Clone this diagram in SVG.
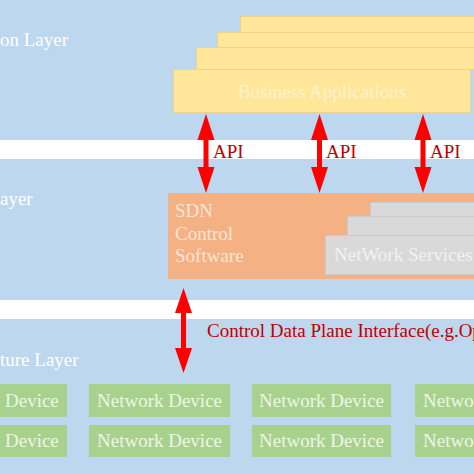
<svg xmlns="http://www.w3.org/2000/svg" width="474" height="474" viewBox="0 0 474 474">
<style>
text{font-family:"Liberation Serif","Times New Roman",serif;font-size:19px}
.app{fill:#FFE699;stroke:#EBD38C;stroke-width:1}
.gray{fill:#D9D9D9;stroke:#CACACA;stroke-width:1}
.dev{fill:#A9D18E}
.lbl{fill:#FFFFFF}
.red{fill:#C00000}
.arrow{fill:#FF0000}
.devt{fill:#EEF5E8;text-anchor:middle}
</style>
<rect x="0" y="0" width="474" height="474" fill="#BDD7EE"/>
<rect x="0" y="140" width="474" height="19" fill="#FFFFFF"/>
<rect x="0" y="300" width="474" height="19" fill="#FFFFFF"/>
<g id="layer-labels">
<text class="lbl" x="0" y="46">on Layer</text>
<text class="lbl" x="0" y="205">ayer</text>
<text class="lbl" x="0" y="366">ture Layer</text>
</g>
<g id="business-applications">
<rect class="app" x="240.5" y="16.5" width="240" height="16"/>
<rect class="app" x="217.5" y="32.5" width="260" height="15"/>
<rect class="app" x="196.5" y="47.5" width="280" height="22"/>
<rect class="app" x="173.5" y="69.5" width="297" height="43"/>
<text x="322" y="98" fill="#FFF2CC" text-anchor="middle">Business Applications</text>
</g>
<g id="sdn-control">
<rect x="168" y="193" width="310" height="86" fill="#F4B183"/>
<text x="175" y="217" fill="#FBE5D6">SDN</text>
<text x="175" y="240" fill="#FBE5D6">Control</text>
<text x="175" y="262" fill="#FBE5D6">Software</text>
</g>
<g id="network-services">
<rect class="gray" x="370.5" y="202.5" width="110" height="14"/>
<rect class="gray" x="347.5" y="216.5" width="130" height="19"/>
<rect class="gray" x="325.5" y="235.5" width="155" height="39"/>
<text x="334" y="261" fill="#F2F2F2">NetWork Services</text>
</g>
<g id="devices">
<g id="dev-0-0"><rect class="dev" x="-74" y="384" width="141" height="33"/><text x="5" y="407" fill="#EEF5E8">Device</text></g>
<g id="dev-0-1"><rect class="dev" x="89" y="384" width="141" height="33"/><text class="devt" x="159.5" y="407">Network Device</text></g>
<g id="dev-0-2"><rect class="dev" x="252" y="384" width="139" height="33"/><text class="devt" x="321.5" y="407">Network Device</text></g>
<g id="dev-0-3"><rect class="dev" x="415" y="384" width="141" height="33"/><text class="devt" x="485.5" y="407">Network Device</text></g>
<g id="dev-1-0"><rect class="dev" x="-74" y="425" width="141" height="32"/><text x="5" y="447" fill="#EEF5E8">Device</text></g>
<g id="dev-1-1"><rect class="dev" x="89" y="425" width="141" height="32"/><text class="devt" x="159.5" y="447">Network Device</text></g>
<g id="dev-1-2"><rect class="dev" x="252" y="425" width="139" height="32"/><text class="devt" x="321.5" y="447">Network Device</text></g>
<g id="dev-1-3"><rect class="dev" x="415" y="425" width="141" height="32"/><text class="devt" x="485.5" y="447">Network Device</text></g>
</g>
<g id="connectors">
<path class="arrow" d="M206,114 L214.5,140 L208.5,140 L208.5,167 L214.5,167 L206,193 L197.5,167 L203.5,167 L203.5,140 L197.5,140 Z"/>
<path class="arrow" d="M319.5,114 L328,140 L322,140 L322,167 L328,167 L319.5,193 L311,167 L317,167 L317,140 L311,140 Z"/>
<path class="arrow" d="M423,114 L431.5,140 L425.5,140 L425.5,167 L431.5,167 L423,193 L414.5,167 L420.5,167 L420.5,140 L414.5,140 Z"/>
<path class="arrow" d="M183.5,288 L192,313 L186,313 L186,348 L192,348 L183.5,373 L175,348 L181,348 L181,313 L175,313 Z"/>
<text class="red" x="213" y="158">API</text>
<text class="red" x="326" y="158">API</text>
<text class="red" x="430" y="158">API</text>
<text class="red" x="207" y="337">Control Data Plane Interface(e.g.OpenFlow)</text>
</g>
</svg>
